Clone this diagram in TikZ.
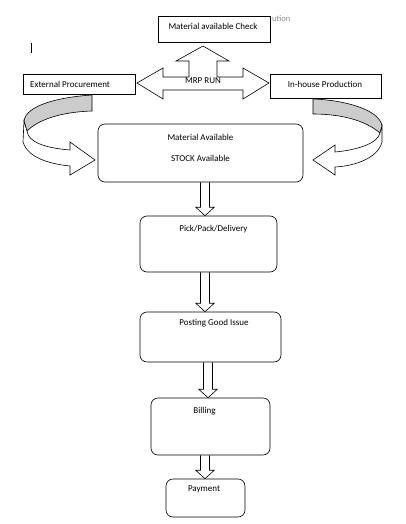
\documentclass[tikz,border=0pt]{standalone}
\usepackage{fontspec}
\setmainfont{Carlito}
\usepackage{tikz}
\usetikzlibrary{calc}

\newcommand\blockarr[3]{%
    \draw[blockarrow] let \p1=(#1.south), \p2=(#2.north) in
    ({#3pt-4.5pt},\y1) -- ({#3pt-4.5pt},\y2+8.5pt) -- ({#3pt-9.3pt},\y2+8.5pt) -- ({#3pt},\y2)
    -- ({#3pt+9.3pt},\y2+8.5pt) -- ({#3pt+4.5pt},\y2+8.5pt) -- ({#3pt+4.5pt},\y1);
}

\begin{document}
\begin{tikzpicture}[x=1pt, y=-1pt,
    box/.style={draw, line width=0.6pt, inner sep=0pt, fill=white},
    rbox/.style={box, rounded corners=7pt},
    lbl/.style={font=\fontsize{9}{11}\selectfont, inner sep=0pt},
    blockarrow/.style={draw, line width=0.6pt},
    backside/.style={draw, line width=0.6pt, fill=gray!40},
    frontside/.style={draw, line width=0.6pt, fill=white}]
    \useasboundingbox (0,0) rectangle (405,524);

    \node[lbl, anchor=west, text=black!45, font=\fontsize{8.5}{10}\selectfont](ution) at (272,19) {ution};
    \node[box, minimum width=112pt, minimum height=26pt](check) at (214,29) {};
    \node[lbl](checkt) at (213,26) {Material available Check};
    \draw[line width=0.6pt] (31,43) -- (31,53);

    \node[box, minimum width=112pt, minimum height=20pt](ext) at (79,84) {};
    \node[lbl, anchor=west](extt) at (30,84) {External Procurement};
    \node[box, minimum width=111pt, minimum height=24pt](inh) at (325.5,86) {};
    \node[lbl](inht) at (325,84) {In-house Production};

    \draw[blockarrow] (137,83) -- (163,68) -- (163,77) -- (189,77) -- (189,61) -- (176,61)
        -- (203,46) -- (229,61) -- (217,61) -- (217,77) -- (243,77) -- (243,68) -- (269,83)
        -- (243,99) -- (243,90) -- (163,90) -- (163,99) -- cycle;
    \node[lbl](mrp) at (203,81) {MRP RUN};

    \draw[backside] (92,95) .. controls (60,97) and (26,105) .. (24,121) -- (27,131)
        .. controls (38,120) and (60,112) .. (92,111) -- cycle;
    \draw[frontside] (24,121) -- (23,142) .. controls (28,158) and (50,164) .. (70,166)
        -- (70,175) -- (95,160) -- (70,142) -- (70,150) .. controls (45,148) and (28,142) .. (27,131) -- cycle;
    \draw[backside] (313,99) .. controls (345,100) and (380,110) .. (382,126) -- (380,133)
        .. controls (365,120) and (340,114) .. (313,114) -- cycle;
    \draw[frontside] (382,126) -- (382,142) .. controls (378,158) and (355,166) .. (335,167)
        -- (335,175) -- (313,160) -- (335,145) -- (335,152) .. controls (358,150) and (378,143) .. (380,133) -- cycle;

    \node[rbox, minimum width=205pt, minimum height=58pt](mat) at (200.5,153) {};
    \node[lbl](matt) at (200.5,137) {Material Available};
    \node[lbl](stockt) at (200.5,158) {STOCK Available};
    \node[rbox, minimum width=137pt, minimum height=56pt](pick) at (208.5,244) {};
    \node[lbl](pickt) at (213.5,229) {Pick/Pack/Delivery};
    \node[rbox, minimum width=141pt, minimum height=50pt](post) at (210.5,337) {};
    \node[lbl](postt) at (214,323) {Posting Good Issue};
    \node[rbox, minimum width=119pt, minimum height=57pt](bill) at (210.5,426.5) {};
    \node[lbl](billt) at (204.5,411) {Billing};
    \node[rbox, minimum width=79pt, minimum height=38pt](pay) at (205.5,498) {};
    \node[lbl](payt) at (204,489.5) {Payment};

    \blockarr{mat}{pick}{205}
    \blockarr{pick}{post}{205}
    \blockarr{post}{bill}{208}
    \blockarr{bill}{pay}{205}
\end{tikzpicture}
\end{document}
